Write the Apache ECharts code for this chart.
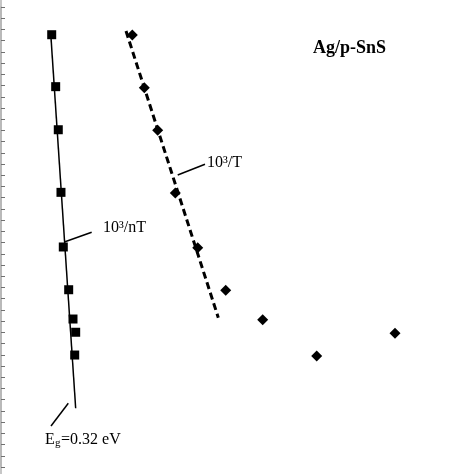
<!DOCTYPE html>
<html>
<head>
<meta charset="utf-8">
<script src="https://cdn.jsdelivr.net/npm/echarts@6/dist/echarts.min.js"></script>
<style>
  html, body { margin: 0; padding: 0; background: #fff; }
  #chart { width: 474px; height: 474px; }
</style>
</head>
<body>
<div id="chart"></div>
<script>
// data (arbitrary plot units, axis values are cropped)
var nTPoints = [[10.72, 38.53], [11.56, 33.90], [12.11, 30.06], [12.68, 24.48], [13.17, 19.61],
                [14.31, 15.80], [15.22, 13.19], [15.79, 12.01], [15.58, 9.98]];
var tPoints = [[27.76, 38.50], [30.30, 33.81], [33.13, 30.01], [36.85, 24.42], [41.59, 19.55],
               [47.51, 15.75], [55.33, 13.13], [66.74, 9.89], [83.30, 11.92]];
var nTFit = [[10.51, 38.65], [15.79, 5.23]];
var tFit = [[26.43, 38.86], [45.94, 13.31]];
var leaders = [
    [[13.53, 20.08], [19.17, 20.92]],
    [[37.36, 26.02], [43.13, 26.98]],
    [[10.57, 3.65], [14.23, 5.68]]
];

var serif = '"Liberation Serif", "DejaVu Serif", serif';

var chart = echarts.init(document.getElementById('chart'));

var option = {
    animation: false,
    backgroundColor: '#fff',
    grid: { left: 1, right: 0, top: 7, bottom: 7 },
    xAxis: {
        type: 'value', min: 0, max: 100,
        show: false
    },
    yAxis: {
        type: 'value', min: 0, max: 41, interval: 1,
        axisLine: { show: true, lineStyle: { color: '#b5b5b5', width: 1.5 } },
        axisTick: { show: true, inside: true, length: 4, lineStyle: { color: '#707070', width: 1 } },
        axisLabel: { show: false },
        splitLine: { show: false }
    },
    series: [
        {
            type: 'line', data: nTFit, showSymbol: false, silent: true,
            lineStyle: { color: '#000', width: 1.5 },
            markLine: {
                silent: true, symbol: 'none', label: { show: false },
                lineStyle: { color: '#000', width: 1.5, type: 'solid' },
                data: leaders.map(function (l) {
                    return [{ coord: l[0] }, { coord: l[1] }];
                })
            }
        },
        {
            type: 'line', data: tFit, showSymbol: false, silent: true,
            lineStyle: { color: '#000', width: 3, type: [7, 4] }
        },
        {
            type: 'scatter', data: nTPoints, symbol: 'rect', symbolSize: 9,
            itemStyle: { color: '#000', opacity: 1 }
        },
        {
            type: 'scatter', data: tPoints, symbol: 'diamond', symbolSize: [11, 11],
            itemStyle: { color: '#000', opacity: 1 }
        }
    ],
    graphic: [
        // axis line runs the full height of the picture
        { type: 'line', shape: { x1: 1, y1: 0, x2: 1, y2: 474 },
          style: { stroke: '#b5b5b5', lineWidth: 1.5 } },
        { type: 'text', left: 313, top: 39,
          style: { text: 'Ag/p-SnS', font: 'bold 18px ' + serif, fill: '#000' } },
        { type: 'text', left: 103, top: 220,
          style: { text: '10³/nT', font: '16px ' + serif, fill: '#000' } },
        { type: 'text', left: 207, top: 155,
          style: { text: '10³/T', font: '16px ' + serif, fill: '#000' } },
        { type: 'text', left: 45, top: 432,
          style: { text: 'E', font: '16px ' + serif, fill: '#000' } },
        { type: 'text', left: 55, top: 438,
          style: { text: 'g', font: '11px ' + serif, fill: '#000' } },
        { type: 'text', left: 61, top: 432,
          style: { text: '=0.32 eV', font: '16px ' + serif, fill: '#000' } }
    ]
};

chart.setOption(option);
</script>
</body>
</html>
